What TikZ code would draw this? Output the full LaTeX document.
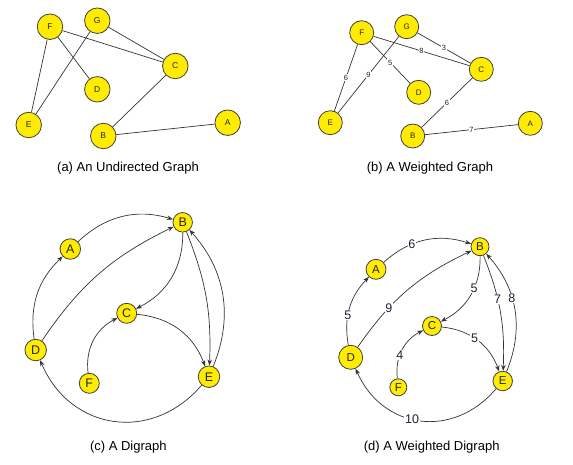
\documentclass[tikz,border=0pt]{standalone}
\usepackage{fontspec}
\setmainfont{Liberation Sans}
\usetikzlibrary{arrows.meta}
\definecolor{vtxyellow}{RGB}{255,236,0}
\definecolor{vtxline}{RGB}{64,64,64}
\definecolor{wtext}{RGB}{30,32,56}

\begin{document}
\begin{tikzpicture}[x=1pt, y=-1pt,
    vtx/.style={circle, draw=vtxline, line width=0.8pt, fill=vtxyellow,
      inner sep=0pt, text=black!85},
    vtxa/.style={vtx, minimum size=25.5pt, font=\fontsize{8.5}{9}\selectfont},
    vtxb/.style={vtx, minimum size=24pt, font=\fontsize{8}{9}\selectfont},
    vtxc/.style={vtx, font=\fontsize{12.5}{13}\selectfont},
    vtxd/.style={vtx, font=\fontsize{11.5}{12}\selectfont},
    conn/.style={draw=black!80, line width=0.7pt},
    darr/.style={conn, -{Stealth[length=6pt, width=4.5pt]}},
    wlab/.style={fill=white, inner sep=0.8pt, text=wtext},
    wlabb/.style={wlab, font=\fontsize{7.5}{8}\selectfont},
    wlabd/.style={wlab, font=\fontsize{12.5}{13}\selectfont},
    caption/.style={font=\fontsize{13}{15}\selectfont}
  ]
  \useasboundingbox (0,0) rectangle (573,464);

  % (a) undirected graph
  \node[vtxa] (aF) at (50,26.7) {F};
  \node[vtxa] (aG) at (97.3,20.7) {G};
  \node[vtxa] (aC) at (175.3,66) {C};
  \node[vtxa] (aD) at (97.3,89.3) {D};
  \node[vtxa] (aE) at (28.7,125) {E};
  \node[vtxa] (aB) at (103.3,136) {B};
  \node[vtxa] (aA) at (227.7,122.7) {A};
  \draw[conn] (aF) -- (aE);
  \draw[conn] (aF) -- (aD);
  \draw[conn] (aF) -- (aC);
  \draw[conn] (aG) -- (aE);
  \draw[conn] (aG) -- (aC);
  \draw[conn] (aC) -- (aB);
  \draw[conn] (aB) -- (aA);
  \node[caption] (capa) at (128,168) {(a) An Undirected Graph};

  % (b) weighted graph
  \node[vtxb] (bF) at (361.7,32.7) {F};
  \node[vtxb] (bG) at (406.7,26.7) {G};
  \node[vtxb] (bC) at (481.3,69.3) {C};
  \node[vtxb] (bD) at (418.7,92.3) {D};
  \node[vtxb] (bE) at (330.3,122.7) {E};
  \node[vtxb] (bB) at (412.7,136) {B};
  \node[vtxb] (bA) at (530.3,123.3) {A};
  \draw[conn] (bF) -- node[wlabb] {6} (bE);
  \draw[conn] (bG) -- node[wlabb] {9} (bE);
  \draw[conn] (bF) -- node[wlabb] {5} (bD);
  \draw[conn] (bF) -- node[wlabb] {8} (bC);
  \draw[conn] (bG) -- node[wlabb] {3} (bC);
  \draw[conn] (bC) -- node[wlabb] {6} (bB);
  \draw[conn] (bB) -- node[wlabb] {7} (bA);
  \node[caption] (capb) at (430,168) {(b) A Weighted Graph};

  % (c) digraph
  \node[vtxc, minimum size=19.5pt] (cB) at (182.7,222.3) {B};
  \node[vtxc, minimum size=20.5pt] (cA) at (70.3,249) {A};
  \node[vtxc, minimum size=20pt] (cC) at (126.7,313.3) {C};
  \node[vtxc, minimum size=21.5pt] (cD) at (35.7,350) {D};
  \node[vtxc, minimum size=20pt] (cF) at (89.3,383.3) {F};
  \node[vtxc, minimum size=21.5pt] (cE) at (209,376.7) {E};
  \draw[darr] (cA) to[bend left=30] (cB);
  \draw[darr] (cD) to[bend left=27] (cA);
  \draw[darr] (cD) to[bend left=15] (cB);
  \draw[darr] (cB) to[bend left=32] (cC);
  \draw[darr] (cF) to[bend left=35] (cC);
  \draw[darr] (cC) to[bend left=32] (cE);
  \draw[darr] (cB) to[bend left=12] (cE);
  \draw[darr] (cE) to[bend right=32] (cB);
  \draw[darr] (cE) to[bend left=58, looseness=1.2] (cD);
  \node[caption] (capc) at (128.3,446.7) {(c) A Digraph};

  % (d) weighted digraph
  \node[vtxd, minimum size=18pt] (dB) at (480,246.7) {B};
  \node[vtxd, minimum size=20pt] (dA) at (376,269.3) {A};
  \node[vtxd, minimum size=19pt] (dC) at (432,326) {C};
  \node[vtxd, minimum size=24pt] (dD) at (350.7,357.3) {D};
  \node[vtxd, minimum size=17pt] (dF) at (398.3,387.3) {F};
  \node[vtxd, minimum size=19.5pt] (dE) at (502.7,381) {E};
  \draw[darr] (dA) to[bend left=30] node[wlabd, pos=0.35] {6} (dB);
  \draw[darr] (dD) to[bend left=27] node[wlabd, pos=0.4] {5} (dA);
  \draw[darr] (dD) to[bend left=15] node[wlabd, pos=0.32] {9} (dB);
  \draw[darr] (dB) to[bend left=32] node[wlabd, pos=0.4] {5} (dC);
  \draw[darr] (dF) to[bend left=35] node[wlabd, pos=0.4] {4} (dC);
  \draw[darr] (dC) to[bend left=32] node[wlabd, pos=0.45] {5} (dE);
  \draw[darr] (dB) to[bend left=12] node[wlabd, pos=0.38] {7} (dE);
  \draw[darr] (dE) to[bend right=32] node[wlabd, pos=0.6] {8} (dB);
  \draw[darr] (dE) to[bend left=58, looseness=1.2] node[wlabd, pos=0.55] {10} (dD);
  \node[caption] (capd) at (431.7,446.7) {(d) A Weighted Digraph};
\end{tikzpicture}
\end{document}
